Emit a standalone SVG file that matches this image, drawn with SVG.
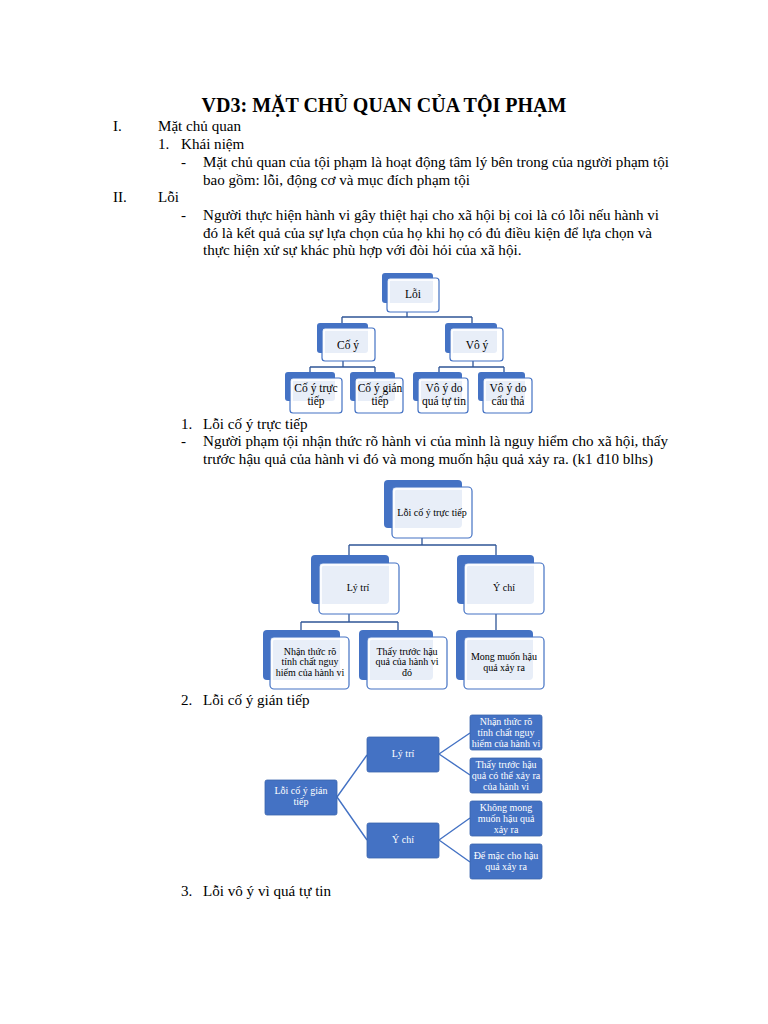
<svg xmlns="http://www.w3.org/2000/svg" width="768" height="1024" viewBox="0 0 768 1024">
<style>
text{font-family:"Liberation Serif","Times New Roman",serif;fill:#000}
.b{font-size:15.1px}
.t{font-size:20px;font-weight:bold}
.back{fill:#4472C4}
.front{fill:#fff;fill-opacity:0.88;stroke:#4472C4;stroke-width:1.2}
.inner{fill:none;stroke:#fff;stroke-width:1.6}
.s1{font-size:11.5px;text-anchor:middle}
.s2{font-size:10px;text-anchor:middle}
.solid{fill:#4472C4;stroke:#3B64AD;stroke-width:0.8}
.w{font-size:10px;text-anchor:middle;fill:#fff}
.c{fill:none;stroke:#2F5597;stroke-width:1.3}
.c3{fill:none;stroke:#4472C4;stroke-width:1.4}
</style>
<rect width="768" height="1024" fill="#fff"/>
<g id="text">
<text class="t" x="384" y="112" text-anchor="middle">VD3: MẶT CHỦ QUAN CỦA TỘI PHẠM</text>
<text class="b" x="113" y="131">I.</text><text class="b" x="158" y="131">Mặt chủ quan</text>
<text class="b" x="158" y="149">1.</text><text class="b" x="181" y="149">Khái niệm</text>
<text class="b" x="181" y="167">-</text><text class="b" x="203" y="167" textLength="466" lengthAdjust="spacing">Mặt chủ quan của tội phạm là hoạt động tâm lý bên trong của người phạm tội</text>
<text class="b" x="203" y="185">bao gồm: lỗi, động cơ và mục đích phạm tội</text>
<text class="b" x="113" y="202">II.</text><text class="b" x="158" y="202">Lỗi</text>
<text class="b" x="181" y="220">-</text><text class="b" x="203" y="220" textLength="456" lengthAdjust="spacing">Người thực hiện hành vi gây thiệt hại cho xã hội bị coi là có lỗi nếu hành vi</text>
<text class="b" x="203" y="238" textLength="449" lengthAdjust="spacing">đó là kết quả của sự lựa chọn của họ khi họ có đủ điều kiện để lựa chọn và</text>
<text class="b" x="203" y="255">thực hiện xử sự khác phù hợp với đòi hỏi của xã hội.</text>
<text class="b" x="181" y="429">1.</text><text class="b" x="203" y="429">Lỗi cố ý trực tiếp</text>
<text class="b" x="181" y="446">-</text><text class="b" x="203" y="446" textLength="465" lengthAdjust="spacing">Người phạm tội nhận thức rõ hành vi của mình là nguy hiểm cho xã hội, thấy</text>
<text class="b" x="203" y="464">trước hậu quả của hành vi đó và mong muốn hậu quả xảy ra. (k1 đ10 blhs)</text>
<text class="b" x="181" y="705">2.</text><text class="b" x="203" y="705">Lỗi cố ý gián tiếp</text>
<text class="b" x="181" y="896">3.</text><text class="b" x="203" y="896">Lỗi vô ý vì quá tự tin</text>
</g>
<g id="connectors">
<path class="c" d="M407 312V317M342 317H472M342 317V323M472 317V323"/>
<path class="c" d="M343 361V367M310 367H375M310 367V372M375 367V372"/>
<path class="c" d="M473 361V367M439 367H504M439 367V372M504 367V372"/>
<path class="c" d="M422 538V545M349 545H496M349 545V555M496 545V555"/>
<path class="c" d="M349 614V622M301 622H398M301 622V630M398 622V630"/>
<path class="c" d="M496 614V630"/>
<path class="c3" d="M337 797L367 755M337 797L367 840M439 754L470 733M439 754L470 775M439 840L470 818M439 840L470 862"/>
</g>
<g id="d1-loi"><rect class="back" x="382" y="273" width="51" height="30" rx="3"/><rect class="front" x="387" y="278" width="52" height="34" rx="3"/><rect class="inner" x="389" y="280" width="48" height="30" rx="2"/><text class="s1" x="413" y="298">Lỗi</text></g>
<g id="d1-coy"><rect class="back" x="317" y="323" width="51" height="30" rx="3"/><rect class="front" x="322" y="328" width="53" height="33" rx="3"/><rect class="inner" x="324" y="330" width="49" height="29" rx="2"/><text class="s1" x="348" y="349">Cố ý</text></g>
<g id="d1-voy"><rect class="back" x="445" y="323" width="52" height="30" rx="3"/><rect class="front" x="450" y="328" width="53" height="33" rx="3"/><rect class="inner" x="452" y="330" width="49" height="29" rx="2"/><text class="s1" x="477" y="349">Vô ý</text></g>
<g id="d1-coytt"><rect class="back" x="285" y="372" width="50" height="29" rx="3"/><rect class="front" x="290" y="378" width="52" height="35" rx="3"/><rect class="inner" x="292" y="380" width="48" height="31" rx="2"/><text class="s1" x="316" y="392">Cố ý trực</text><text class="s1" x="316" y="405">tiếp</text></g>
<g id="d1-coygt"><rect class="back" x="350" y="372" width="45" height="29" rx="3"/><rect class="front" x="355" y="378" width="48" height="35" rx="3"/><rect class="inner" x="357" y="380" width="44" height="31" rx="2"/><text class="s1" x="380" y="392">Cố ý gián</text><text class="s1" x="380" y="405">tiếp</text></g>
<g id="d1-voytt"><rect class="back" x="413" y="372" width="49" height="29" rx="3"/><rect class="front" x="418" y="378" width="50" height="35" rx="3"/><rect class="inner" x="420" y="380" width="46" height="31" rx="2"/><text class="s1" x="444" y="392">Vô ý do</text><text class="s1" x="444" y="405">quá tự tin</text></g>
<g id="d1-voyct"><rect class="back" x="478" y="372" width="47" height="29" rx="3"/><rect class="front" x="483" y="378" width="49" height="35" rx="3"/><rect class="inner" x="485" y="380" width="45" height="31" rx="2"/><text class="s1" x="508" y="392">Vô ý do</text><text class="s1" x="508" y="405">cẩu thả</text></g>
<g id="d2-root"><rect class="back" x="384" y="480" width="78" height="48" rx="4"/><rect class="front" x="392" y="487" width="80" height="51" rx="4"/><rect class="inner" x="394" y="489" width="76" height="47" rx="3"/><text class="s2" x="432" y="516">Lỗi cố ý trực tiếp</text></g>
<g id="d2-lytri"><rect class="back" x="311" y="555" width="78" height="49" rx="4"/><rect class="front" x="319" y="563" width="80" height="51" rx="4"/><rect class="inner" x="321" y="565" width="76" height="47" rx="3"/><text class="s2" x="358" y="591">Lý trí</text></g>
<g id="d2-ychi"><rect class="back" x="457" y="555" width="77" height="49" rx="4"/><rect class="front" x="464" y="563" width="80" height="51" rx="4"/><rect class="inner" x="466" y="565" width="76" height="47" rx="3"/><text class="s2" x="504" y="591">Ý chí</text></g>
<g id="d2-nhanthuc"><rect class="back" x="263" y="630" width="77" height="50" rx="4"/><rect class="front" x="270" y="637" width="79" height="52" rx="4"/><rect class="inner" x="272" y="639" width="75" height="48" rx="3"/><text class="s2" x="310" y="655">Nhận thức rõ</text><text class="s2" x="310" y="665">tính chất nguy</text><text class="s2" x="310" y="676">hiểm của hành vi</text></g>
<g id="d2-thaytruoc"><rect class="back" x="359" y="630" width="74" height="50" rx="4"/><rect class="front" x="367" y="637" width="80" height="52" rx="4"/><rect class="inner" x="369" y="639" width="76" height="48" rx="3"/><text class="s2" x="407" y="655">Thấy trước hậu</text><text class="s2" x="407" y="665">quả của hành vi</text><text class="s2" x="407" y="676">đó</text></g>
<g id="d2-mongmuon"><rect class="back" x="456" y="630" width="77" height="50" rx="4"/><rect class="front" x="464" y="637" width="80" height="52" rx="4"/><rect class="inner" x="466" y="639" width="76" height="48" rx="3"/><text class="s2" x="504" y="660">Mong muốn hậu</text><text class="s2" x="504" y="671">quả xảy ra</text></g>
<g id="d3-root"><rect class="solid" x="265" y="780" width="72" height="35" rx="2"/><text class="w" x="301" y="794">Lỗi cố ý gián</text><text class="w" x="301" y="805">tiếp</text></g>
<g id="d3-lytri"><rect class="solid" x="367" y="737" width="72" height="35" rx="2"/><text class="w" x="403" y="757">Lý trí</text></g>
<g id="d3-ychi"><rect class="solid" x="367" y="823" width="72" height="35" rx="2"/><text class="w" x="403" y="843">Ý chí</text></g>
<g id="d3-l1"><rect class="solid" x="470" y="715" width="72" height="35" rx="2"/><text class="w" x="506" y="725">Nhận thức rõ</text><text class="w" x="506" y="736">tính chất nguy</text><text class="w" x="506" y="747">hiểm của hành vi</text></g>
<g id="d3-l2"><rect class="solid" x="470" y="758" width="72" height="35" rx="2"/><text class="w" x="506" y="768">Thấy trước hậu</text><text class="w" x="506" y="779">quả có thể xảy ra</text><text class="w" x="506" y="790">của hành vi</text></g>
<g id="d3-l3"><rect class="solid" x="470" y="801" width="72" height="35" rx="2"/><text class="w" x="506" y="811">Không mong</text><text class="w" x="506" y="822">muốn hậu quả</text><text class="w" x="506" y="833">xảy ra</text></g>
<g id="d3-l4"><rect class="solid" x="470" y="844" width="72" height="35" rx="2"/><text class="w" x="506" y="859">Để mặc cho hậu</text><text class="w" x="506" y="870">quả xảy ra</text></g>
</svg>
